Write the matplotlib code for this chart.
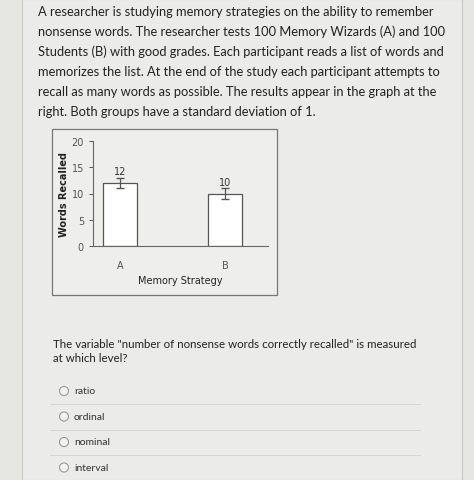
import matplotlib.pyplot as plt
from matplotlib.patches import Rectangle, Circle
from matplotlib.lines import Line2D

groups = ["A", "B"]
means = [12, 10]
sd = [1, 1]

paragraph = [
    "A researcher is studying memory strategies on the ability to remember",
    "nonsense words. The researcher tests 100 Memory Wizards (A) and 100",
    "Students (B) with good grades. Each participant reads a list of words and",
    "memorizes the list. At the end of the study each participant attempts to",
    "recall as many words as possible. The results appear in the graph at the",
    "right. Both groups have a standard deviation of 1.",
]
question = [
    'The variable "number of nonsense words correctly recalled" is measured',
    "at which level?",
]
options = ["ratio", "ordinal", "nominal", "interval"]

W, H = 474, 481
fig = plt.figure(figsize=(4.74, 4.81), dpi=100)
fig.patch.set_facecolor("#e6e6e3")


def px(x, y):
    return x / W, 1 - y / H


# page panel
fig.patches.append(Rectangle(px(22, 481), 440 / W, 481 / H, transform=fig.transFigure,
                             facecolor="#ebebe9", edgecolor="#c8c8c6", lw=0.8, zorder=0))

for i, line in enumerate(paragraph):
    fig.text(*px(38, 12 + 20 * i), line, fontsize=9.3, color="#222222",
             family="Lato", va="center", ha="left")

# chart frame
fig.patches.append(Rectangle(px(52, 296), 225 / W, 166 / H, transform=fig.transFigure,
                             facecolor="#eeeeec", edgecolor="#777777", lw=0.9, zorder=0))

ax = fig.add_axes([93 / W, 1 - 247 / H, 175 / W, 105 / H])
ax.set_zorder(5)
ax.set_facecolor("none")
x = list(range(len(groups)))
ax.bar(x, means, width=0.33, facecolor="white", edgecolor="#555555", lw=0.9)
ax.errorbar(x, means, yerr=sd, fmt="none", ecolor="#555555", capsize=3, lw=0.9)
for xi, m, s in zip(x, means, sd):
    ax.text(xi, m + s + 0.3, str(m), ha="center", va="bottom", fontsize=7, color="#333333")
ax.set_xlim(-0.257, 1.41)
ax.set_ylim(0, 20)
ax.set_yticks([0, 5, 10, 15, 20])
ax.set_xticks(x)
ax.set_xticklabels(groups)
ax.tick_params(labelsize=7, colors="#555555", length=3, width=0.7)
ax.tick_params(axis="x", length=0, pad=10)
for s in ["top", "right"]:
    ax.spines[s].set_visible(False)
for s in ["left", "bottom"]:
    ax.spines[s].set_color("#666666")
    ax.spines[s].set_linewidth(0.8)
ax.set_xlabel("Memory Strategy", fontsize=7, color="#222222", labelpad=4)
ax.set_ylabel("Words Recalled", fontsize=7, color="#222222", fontweight="bold", labelpad=2)

for i, line in enumerate(question):
    fig.text(*px(53, 344 + 15 * i), line, fontsize=8.3, color="#222222",
             family="Lato", va="center", ha="left")

for i, opt in enumerate(options):
    y = 392 + 25.5 * i
    fig.patches.append(Circle(px(64, y), 4.5 / W, transform=fig.transFigure,
                              facecolor="#f2f2f0", edgecolor="#999999", lw=0.8))
    fig.text(*px(74, y), opt, fontsize=7.5, color="#333333", family="Lato",
             va="center", ha="left")
    if i < len(options) - 1:
        yl = 1 - (y + 13) / H
        fig.lines.append(Line2D([50 / W, 420 / W], [yl, yl], transform=fig.transFigure,
                                color="#d6d6d4", lw=0.7))

fig.savefig("out.png", dpi=100, facecolor=fig.get_facecolor())
